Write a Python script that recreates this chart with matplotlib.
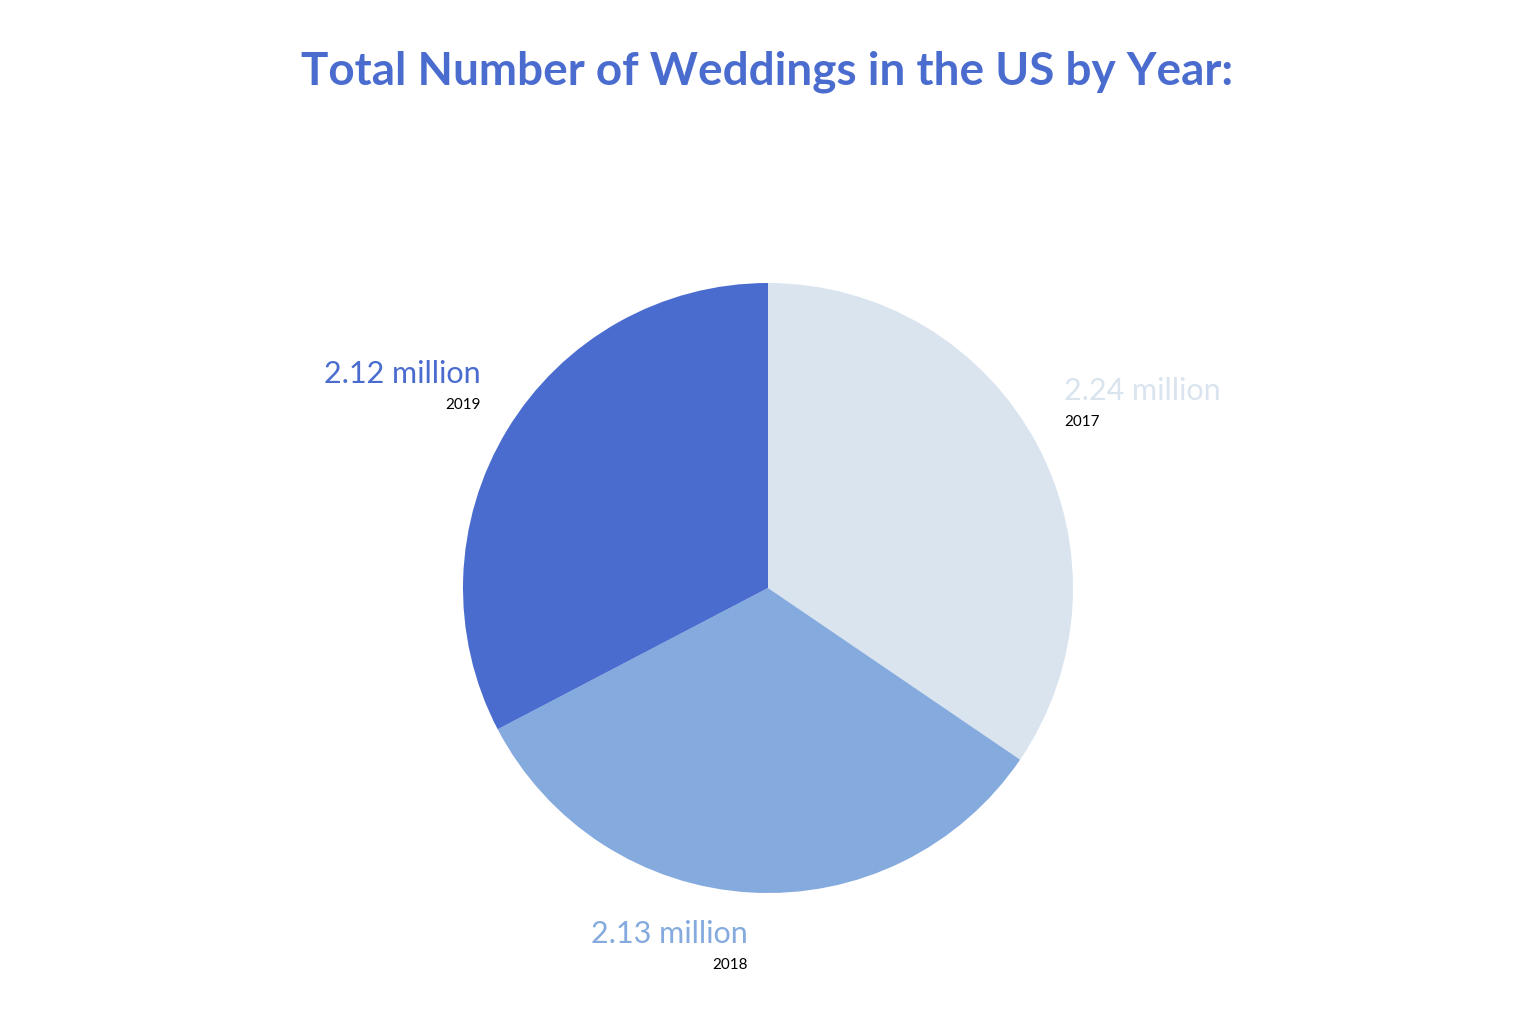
import matplotlib
matplotlib.use("Agg")
import matplotlib.pyplot as plt

years = ["2017", "2018", "2019"]
values = [2.24, 2.13, 2.12]
labels = ["2.24 million", "2.13 million", "2.12 million"]
colors = ["#D9E4EE", "#85AADE", "#4A6CCF"]

W, H = 1536, 1023
fig = plt.figure(figsize=(W/100, H/100), dpi=100)
fig.patch.set_facecolor("white")
cx, cy, r = 768, 588, 305
ax = fig.add_axes([(cx-r)/W, (H-cy-r)/H, 2*r/W, 2*r/H])
ax.pie(values, colors=colors, startangle=90, counterclock=False, radius=1,
       wedgeprops=dict(linewidth=0))
ax.set_xlim(-1, 1); ax.set_ylim(-1, 1); ax.set_aspect("equal")
ax.axis("off")

fam = ["Lato", "DejaVu Sans"]
fig.text(767/W, 1-72/H, "Total Number of Weddings in the US by Year:", ha="center", va="center",
         fontsize=33, fontweight="bold", color="#4A6CCF", family=fam)

# label positions (px): (x, y_value, y_year, ha)
pos = [(1064, 391, 422, "left"), (748, 934, 965, "right"), (481, 374, 405, "right")]
for (x, yv, yy, ha), lab, yr, c in zip(pos, labels, years, colors):
    fig.text(x/W, 1-yv/H, lab, ha=ha, va="center", fontsize=22, color=c, family=fam)
    fig.text(x/W, 1-yy/H, yr, ha=ha, va="center", fontsize=11, color="black", family=fam)

fig.savefig("out.png", dpi=100, facecolor="white")
